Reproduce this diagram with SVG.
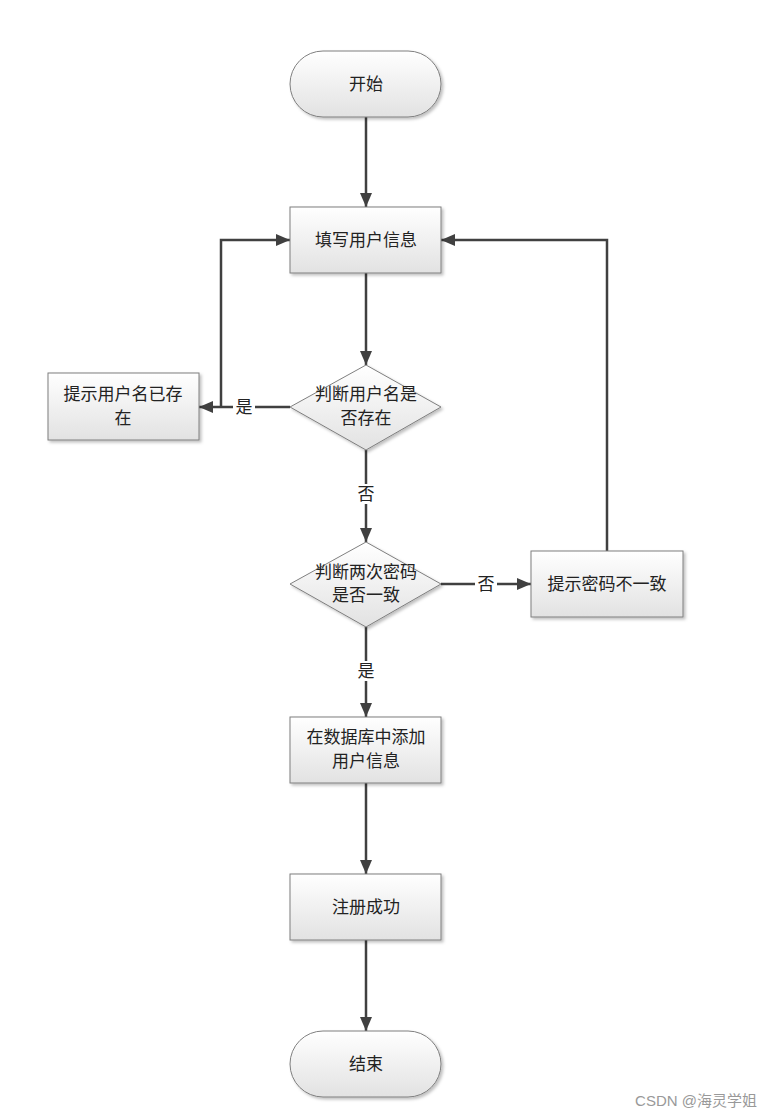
<svg xmlns="http://www.w3.org/2000/svg" width="772" height="1117" viewBox="0 0 772 1117">
<defs>
<linearGradient id="g" x1="0" y1="0" x2="0" y2="1"><stop offset="0" stop-color="#ffffff"/><stop offset="1" stop-color="#e2e2e2"/></linearGradient>
<marker id="a" viewBox="0 0 10 10" refX="10" refY="5" markerWidth="14" markerHeight="12" markerUnits="userSpaceOnUse" orient="auto" preserveAspectRatio="none"><path d="M0,0 L10,5 L0,10 z" fill="#404040"/></marker>
<filter id="s" x="-10%" y="-10%" width="130%" height="130%"><feDropShadow dx="2" dy="2" stdDeviation="1.5" flood-color="#000" flood-opacity="0.25"/></filter>
</defs>
<style>
.n{fill:url(#g);stroke:#7f7f7f;stroke-width:1;filter:url(#s)}
.t{font-family:"Liberation Serif","Noto Sans CJK SC",serif;font-size:17px;fill:#222;text-anchor:middle}
.c{fill:none;stroke:#404040;stroke-width:2.5;marker-end:url(#a)}
.l{font-family:"Liberation Serif","Noto Sans CJK SC",serif;font-size:17px;fill:#222;text-anchor:middle}
</style>
<rect width="772" height="1117" fill="#fff"/>
<g id="connectors">
<path class="c" d="M366,117 V207"/>
<path class="c" d="M366,273 V365"/>
<path class="c" d="M290,407 H199"/>
<path class="c" d="M221,407 V240 H290"/>
<path class="c" d="M366,450 V542"/>
<path class="c" d="M441,584 H531"/>
<path class="c" d="M607,551 V240 H441"/>
<path class="c" d="M366,627 V717"/>
<path class="c" d="M366,783 V874"/>
<path class="c" d="M366,940 V1031"/>
<rect x="233" y="397" width="22" height="20" fill="#fff"/><text class="l" x="244" y="413">是</text>
<rect x="355" y="484" width="22" height="20" fill="#fff"/><text class="l" x="366" y="500">否</text>
<rect x="475" y="574" width="22" height="20" fill="#fff"/><text class="l" x="486" y="590">否</text>
<rect x="355" y="661" width="22" height="20" fill="#fff"/><text class="l" x="366" y="677">是</text>
</g>
<g id="start"><rect class="n" x="290" y="51" width="151" height="66" rx="33"/><text class="t" x="366" y="90">开始</text></g>
<g id="fill"><rect class="n" x="290" y="207" width="151" height="66"/><text class="t" x="366" y="246">填写用户信息</text></g>
<g id="d1"><polygon class="n" points="366,365 441,407 366,450 290,407"/><text class="t" x="366" y="400">判断用户名是</text><text class="t" x="366" y="424">否存在</text></g>
<g id="exists"><rect class="n" x="48" y="373" width="151" height="67"/><text class="t" x="123" y="400">提示用户名已存</text><text class="t" x="123" y="424">在</text></g>
<g id="d2"><polygon class="n" points="366,542 441,584 366,627 290,584"/><text class="t" x="366" y="578">判断两次密码</text><text class="t" x="366" y="601">是否一致</text></g>
<g id="mismatch"><rect class="n" x="531" y="551" width="152" height="66"/><text class="t" x="607" y="590">提示密码不一致</text></g>
<g id="db"><rect class="n" x="290" y="717" width="151" height="66"/><text class="t" x="366" y="743">在数据库中添加</text><text class="t" x="366" y="767">用户信息</text></g>
<g id="ok"><rect class="n" x="290" y="874" width="151" height="66"/><text class="t" x="366" y="913">注册成功</text></g>
<g id="end"><rect class="n" x="290" y="1031" width="151" height="66" rx="33"/><text class="t" x="366" y="1070">结束</text></g>
<text x="757" y="1106" font-family="Liberation Sans,Noto Sans CJK SC,sans-serif" font-size="15" fill="#999" text-anchor="end">CSDN @海灵学姐</text>
</svg>
